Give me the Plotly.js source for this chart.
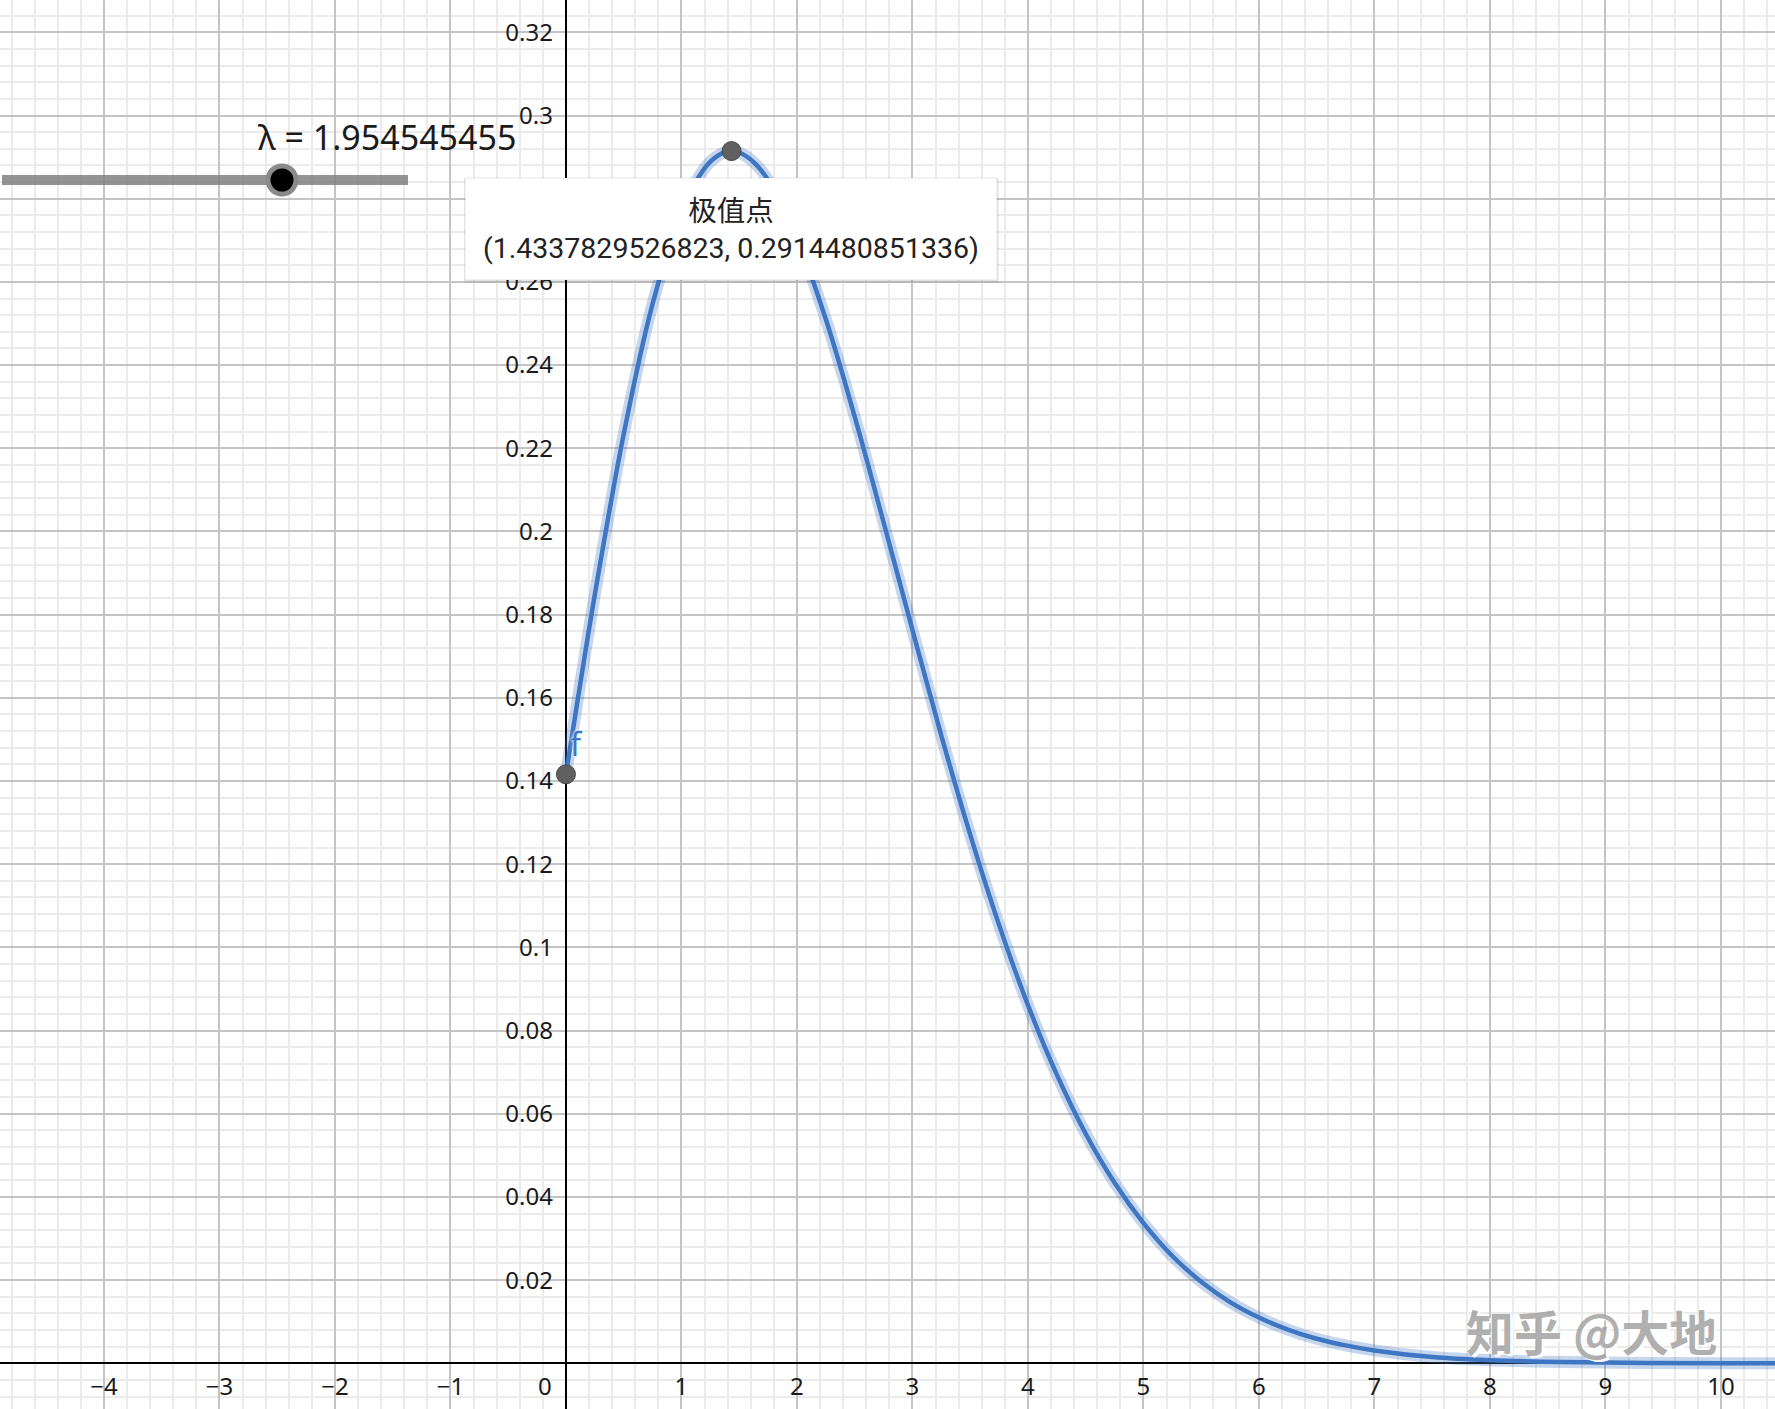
<!DOCTYPE html>
<html><head><meta charset="utf-8">
<script src="https://cdn.plot.ly/plotly-3.0.1.min.js"></script>
<style>html,body{margin:0;padding:0;background:#fff;overflow:hidden}</style>
</head><body><div id="chart" style="width:1775px;height:1409px"></div>
<script>
// ---- data ----
const lambdaLabel = 'λ = 1.954545455';
const curveX = [0, 0.1, 0.25, 0.5, 0.75, 1, 1.125, 1.25, 1.375, 1.4338, 1.5, 1.625, 1.75, 2, 2.25, 2.5, 2.75, 3, 3.25, 3.5, 3.75, 4, 4.25, 4.5, 4.75, 5, 5.25, 5.5, 5.75, 6, 6.25, 6.5, 6.75, 7, 7.5, 8, 9, 10, 10.5];
const curveY = [0.1416, 0.1592, 0.1848, 0.2234, 0.2547, 0.2768, 0.2841, 0.2889, 0.2912, 0.29145, 0.2911, 0.2888, 0.2845, 0.2705, 0.2510, 0.2276, 0.2022, 0.1763, 0.1509, 0.1271, 0.1054, 0.0861, 0.0694, 0.0552, 0.0434, 0.0337, 0.0258, 0.0196, 0.0147, 0.0110, 0.0081, 0.0059, 0.0043, 0.0031, 0.0015, 0.00075, 0.00016, 0.00003, 0.00001];
const pointX = [0, 1.4337829526823];
const pointY = [0.1416, 0.2914480851336];
const extremumTitle = '极值点';
const extremumText = '(1.4337829526823, 0.2914480851336)';
const xTickVals = [-4, -3, -2, -1, 1, 2, 3, 4, 5, 6, 7, 8, 9, 10];
const xTickText = ['−4', '−3', '−2', '−1', '1', '2', '3', '4', '5', '6', '7', '8', '9', '10'];
const yTickVals = [0.02, 0.04, 0.06, 0.08, 0.1, 0.12, 0.14, 0.16, 0.18, 0.2, 0.22, 0.24, 0.26, 0.28, 0.3, 0.32];
const yTickText = ['0.02', '0.04', '0.06', '0.08', '0.1', '0.12', '0.14', '0.16', '0.18', '0.2', '0.22', '0.24', '0.26', '0.28', '0.3', '0.32'];
const watermark = '知乎 @大地';

// ---- view ----
const X_RANGE = [-4.900, 10.468];
const Y_RANGE = [-0.01099, 0.32777];
const W = 1775, H = 1409;
const xAxisPos = (0 - Y_RANGE[0]) / (Y_RANGE[1] - Y_RANGE[0]);
const yAxisPos = (0 - X_RANGE[0]) / (X_RANGE[1] - X_RANGE[0]);
const BLUE = 'rgb(62,118,196)';
const FONT = '"Noto Sans", "Open Sans", sans-serif';
const px = v => v / W, py = v => 1 - v / H;

const traces = [
  {x: curveX, y: curveY, mode: 'lines', line: {color: 'rgba(62,118,196,0.3)', width: 12, shape: 'spline', smoothing: 1}, hoverinfo: 'skip'},
  {x: curveX, y: curveY, mode: 'lines', line: {color: BLUE, width: 4.5, shape: 'spline', smoothing: 1}, hoverinfo: 'skip'},
  {x: pointX, y: pointY, mode: 'markers', marker: {size: 19, color: '#606060', line: {color: '#4a4a4a', width: 1}}, hoverinfo: 'skip'}
];

const axisCommon = {
  showgrid: true, gridcolor: '#c4c4c4', gridwidth: 2,
  zeroline: true, zerolinecolor: '#000', zerolinewidth: 2,
  showline: false, ticks: '', anchor: 'free',
  tickfont: {family: FONT, size: 24, color: '#1a1a1a'},
  fixedrange: true, tickmode: 'array'
};

const layout = {
  width: W, height: H,
  margin: {l: 0, r: 0, t: 0, b: 0, pad: 0},
  paper_bgcolor: '#fff', plot_bgcolor: '#fff',
  showlegend: false,
  xaxis: Object.assign({}, axisCommon, {
    range: X_RANGE, tickvals: xTickVals, ticktext: xTickText,
    position: xAxisPos, ticklabelstandoff: 7,
    minor: {tickmode: 'linear', tick0: 0, dtick: 0.2, showgrid: true, gridcolor: '#ebebeb', gridwidth: 2, ticks: ''}
  }),
  yaxis: Object.assign({}, axisCommon, {
    range: Y_RANGE, tickvals: yTickVals, ticktext: yTickText,
    position: yAxisPos, ticklabelstandoff: 13,
    minor: {tickmode: 'linear', tick0: 0, dtick: 0.004, showgrid: true, gridcolor: '#ebebeb', gridwidth: 2, ticks: ''}
  }),
  shapes: [
    // slider track
    {type: 'line', xref: 'paper', yref: 'paper', x0: px(2), x1: px(408), y0: py(180), y1: py(180), line: {color: 'rgba(128,128,128,0.85)', width: 10}},
    // slider knob
    {type: 'circle', xref: 'paper', yref: 'paper', xsizemode: 'pixel', ysizemode: 'pixel', xanchor: px(282), yanchor: py(180),
     x0: -16.5, x1: 16.5, y0: -16.5, y1: 16.5, fillcolor: '#8a8a8a', line: {width: 0}},
    {type: 'circle', xref: 'paper', yref: 'paper', xsizemode: 'pixel', ysizemode: 'pixel', xanchor: px(282), yanchor: py(180),
     x0: -11.5, x1: 11.5, y0: -11.5, y1: 11.5, fillcolor: '#000', line: {width: 0}},
    // tooltip shadow + box
    {type: 'rect', xref: 'paper', yref: 'paper', x0: px(464), x1: px(999), y0: py(283), y1: py(178), fillcolor: 'rgba(0,0,0,0.06)', line: {width: 0}},
    {type: 'rect', xref: 'paper', yref: 'paper', x0: px(465), x1: px(997), y0: py(280), y1: py(178), fillcolor: '#fff', line: {color: 'rgba(0,0,0,0.10)', width: 1}}
  ],
  annotations: [
    {xref: 'x', yref: 'y', x: 0, y: 0, text: '0', showarrow: false, xanchor: 'right', yanchor: 'middle', xshift: -12, yshift: -22,
     font: {family: FONT, size: 24, color: '#1a1a1a'}},
    {xref: 'paper', yref: 'paper', x: px(256), y: py(137), text: lambdaLabel, showarrow: false, xanchor: 'left', yanchor: 'middle',
     font: {family: FONT, size: 34, color: '#1a1a1a'}},
    {xref: 'paper', yref: 'paper', x: px(731), y: py(230), text: extremumTitle + '<br>' + extremumText, showarrow: false,
     xanchor: 'center', yanchor: 'middle', align: 'center',
     font: {family: 'Roboto, "Noto Sans CJK SC", sans-serif', size: 28.5, color: '#222'}},
    {xref: 'x', yref: 'y', x: 0.09, y: 0.149, text: 'f', showarrow: false, xanchor: 'center', yanchor: 'middle',
     font: {family: FONT, size: 32, color: BLUE, shadow: '0px 0px 3px #ffffff, 0px 0px 2px #ffffff'}},
    {xref: 'paper', yref: 'paper', x: px(1594), y: py(1332), text: watermark, showarrow: false, xanchor: 'center', yanchor: 'middle',
     font: {family: '"Noto Sans CJK SC", sans-serif', size: 48, color: 'rgba(255,255,255,0.95)', weight: 700}},
    {xref: 'paper', yref: 'paper', x: px(1591), y: py(1330), text: watermark, showarrow: false, xanchor: 'center', yanchor: 'middle',
     font: {family: '"Noto Sans CJK SC", sans-serif', size: 48, color: 'rgba(150,150,150,0.75)', weight: 700}}
  ]
};

Plotly.newPlot('chart', traces, layout, {staticPlot: true, displayModeBar: false});
</script>
</body></html>
